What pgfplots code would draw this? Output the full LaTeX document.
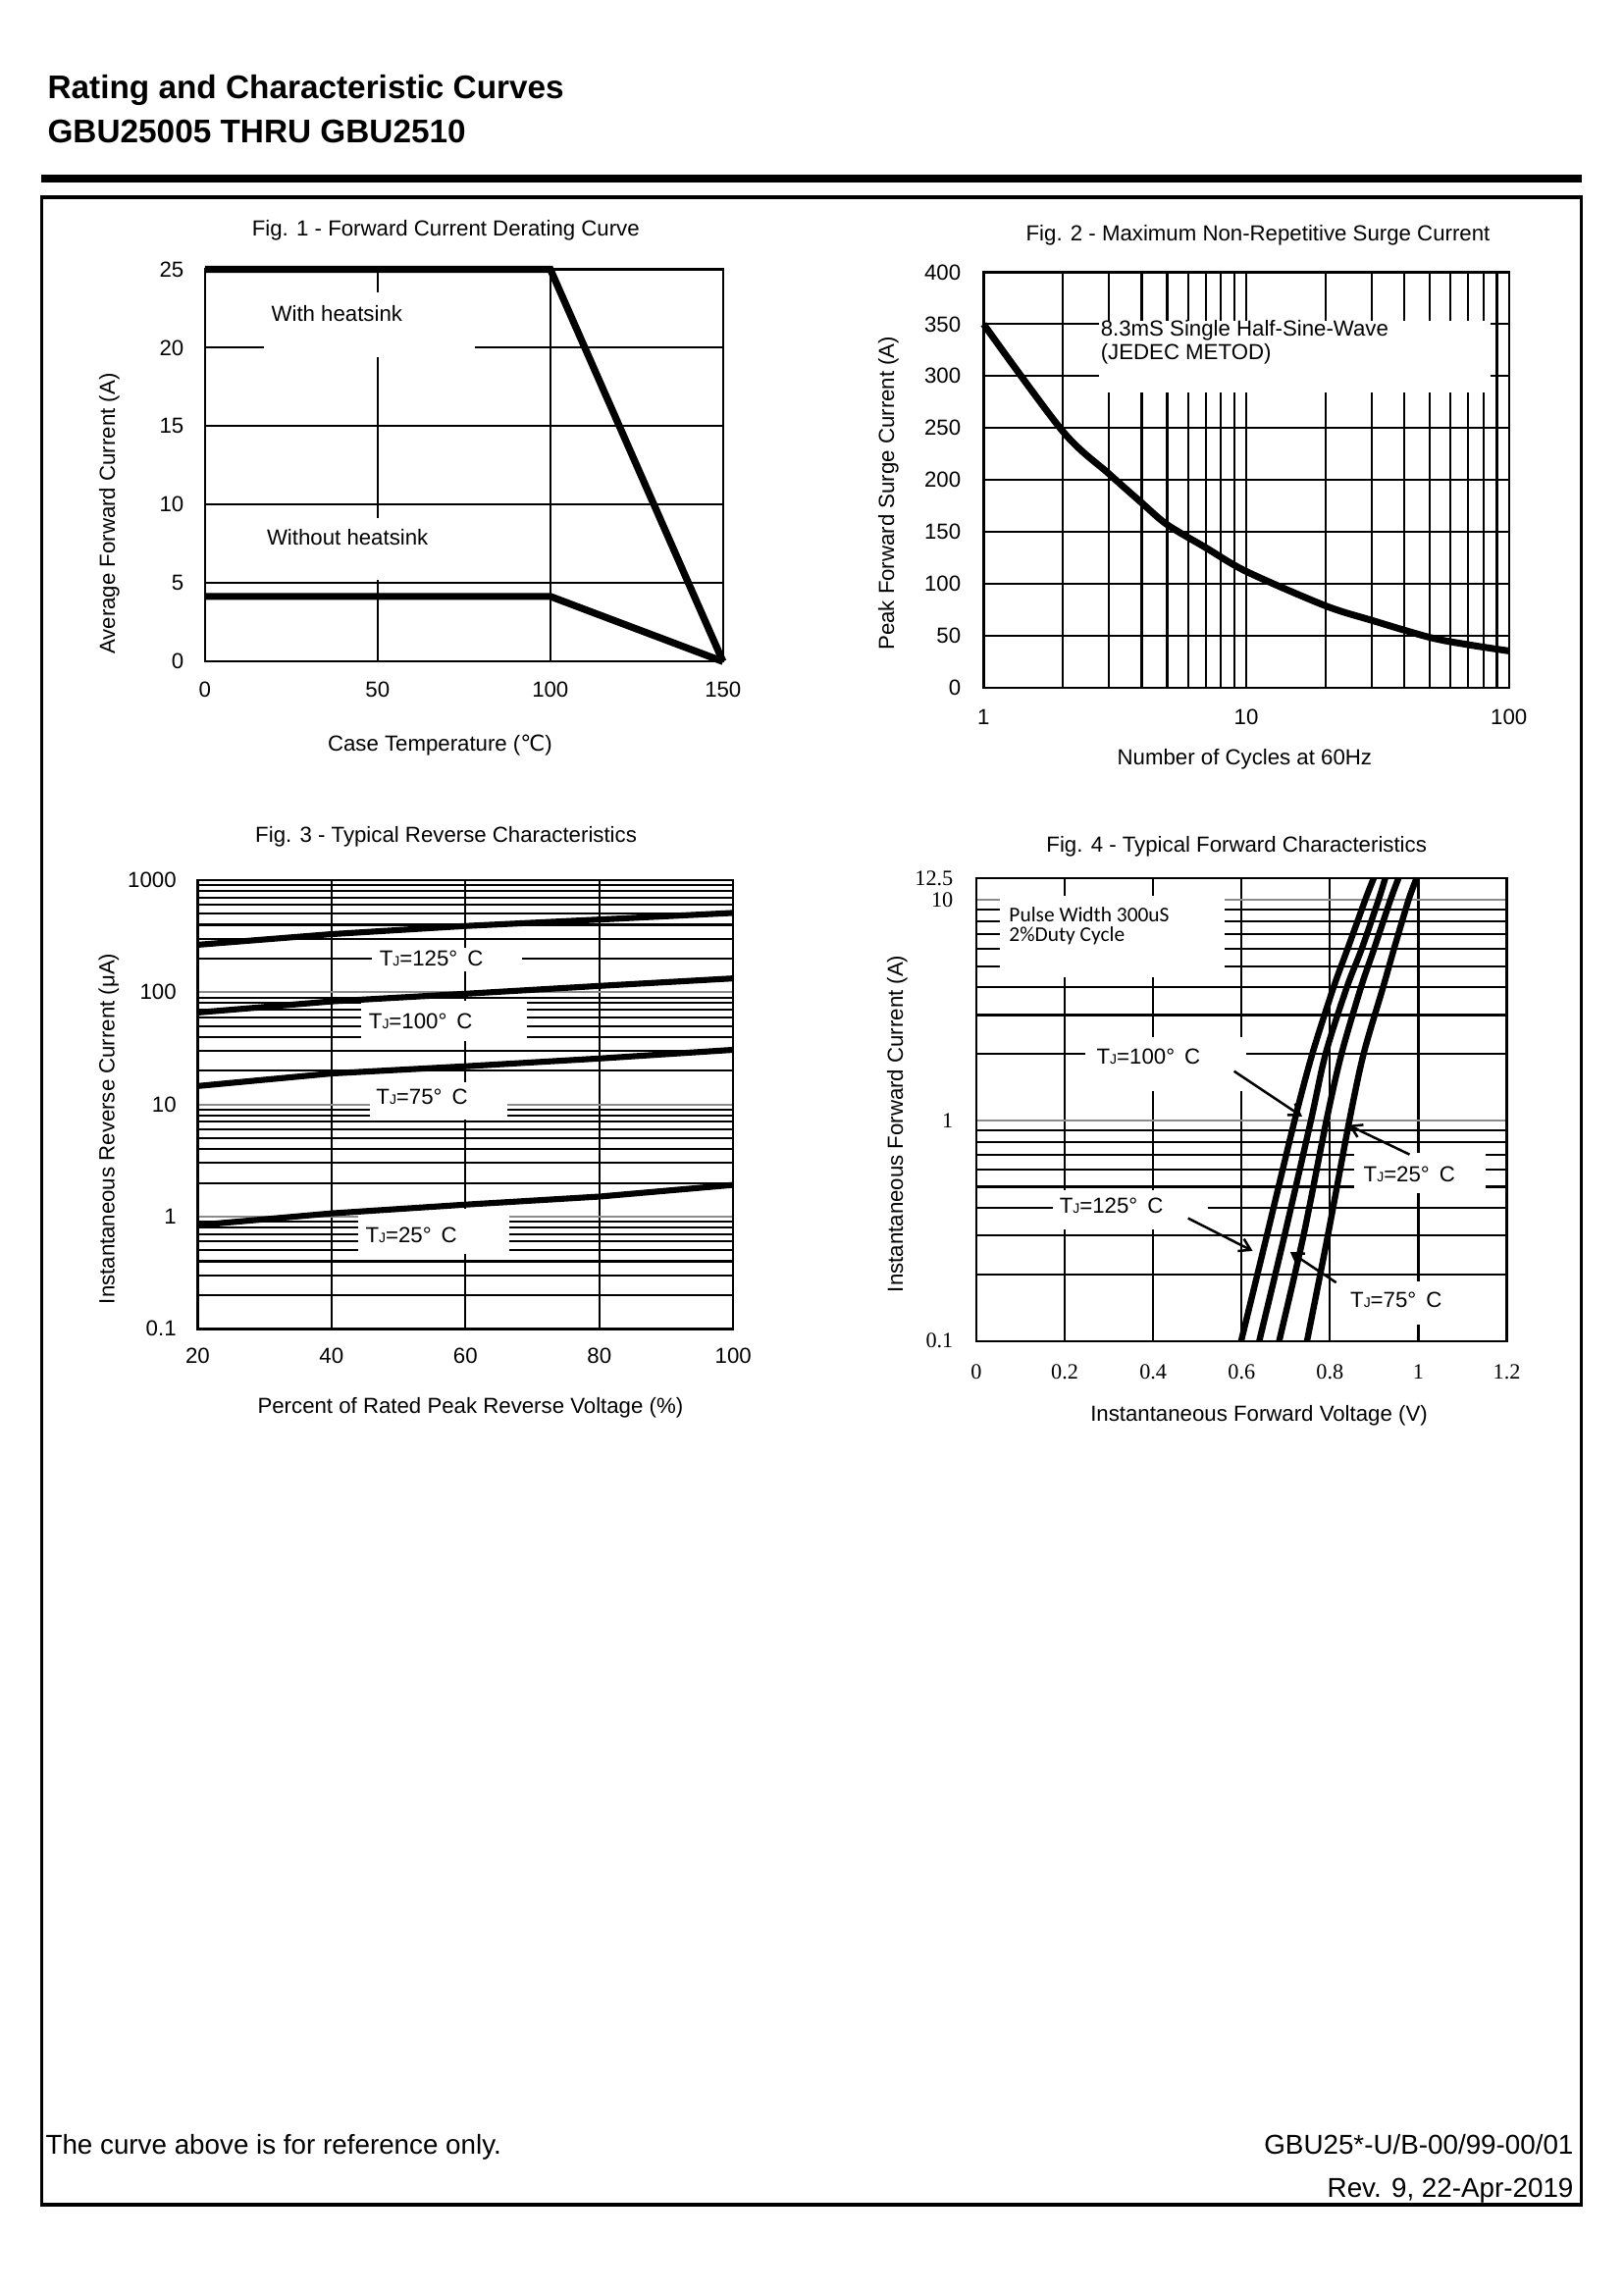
\documentclass[border=0pt]{standalone}
\usepackage{fontspec}
\setmainfont{Liberation Sans}
\newfontfamily\serifnum{Liberation Serif}
\newfontfamily\calib{Carlito}
\newfontfamily\dejavu{DejaVu Sans}
\usepackage{pgfplots}
\pgfplotsset{compat=1.18}
\usetikzlibrary{arrows.meta}

\newcommand\eight{\fontsize{8}{9.6}\selectfont}
\newcommand\tj[1]{T{\fontsize{5}{5}\selectfont J}=#1°\hspace{0.45em}C}

\pgfplotsset{
  ds/.style={
    scale only axis, clip=false, anchor=south west,
    axis line style={line width=0.9pt},
    tick style={draw=none},
    major tick length=0pt, minor tick length=0pt,
    grid style={black, line width=0.75pt},
    ticklabel style={font=\eight},
    /pgf/number format/assume math mode=true,
  },
}
\tikzset{lbl/.style={font=\eight, inner sep=0pt}}

\begin{document}
\begin{tikzpicture}[x=0.359886pt, y=-0.359886pt]
\path[use as bounding box, fill=white] (0,0) rectangle (1654,2338);

% header
\node[anchor=base west, inner sep=0pt, font=\bfseries\fontsize{12}{14}\selectfont] at (48,101) {Rating and Characteristic Curves};
\node[anchor=base west, inner sep=0pt, font=\bfseries\fontsize{12}{14}\selectfont] at (48,146) {GBU25005 THRU GBU2510};
\draw[line width=3.1pt] (42,182) -- (1612,182);
\draw[line width=1.1pt] (42.5,201) rectangle (1611.5,2247);

% ---------- Fig. 1
\begin{axis}[ds, at={(75.14pt,-242.64pt)}, width=190.02pt, height=143.88pt,
  xmin=0, xmax=150, ymin=0, ymax=25,
  xtick={0,50,100,150}, ytick={0,5,10,15,20,25}, grid=major,
  xticklabel style={yshift=-4pt}, yticklabel style={xshift=-4.2pt}]
\fill[white] (axis cs:17.2,19.4) rectangle (axis cs:78.1,23.5);
\fill[white] (axis cs:17.2,5.21) rectangle (axis cs:78.1,9.14);
\addplot[black, line width=2.6pt] coordinates {(0,25)(100,25)(150,0)};
\addplot[black, line width=2.6pt] coordinates {(0,4.15)(100,4.15)(150,0)};
\node[lbl, anchor=west] at (axis cs:19.1,22.2) {With heatsink};
\node[lbl, anchor=west] at (axis cs:17.8,7.94) {Without heatsink};
\end{axis}
\node[lbl, anchor=base] at (454.3,240.3) {Fig. 1 - Forward Current Derating Curve};
\node[lbl, anchor=base] at (448.4,765) {Case Temperature ({\dejavu ℃})};
\node[lbl, anchor=base, rotate=90] at (117,523.6) {Average Forward Current (A)};

% ---------- Fig. 2
\begin{axis}[ds, at={(360.72pt,-252.28pt)}, width=192.68pt, height=152.45pt,
  xmode=log, xmin=1, xmax=100, ymin=0, ymax=400,
  xtick={1,10,100}, xticklabels={1,10,100},
  minor xtick={2,3,4,5,6,7,8,9,20,30,40,50,60,70,80,90},
  ytick={0,50,100,150,200,250,300,350,400}, grid=both,
  xticklabel style={yshift=-4.5pt}, yticklabel style={xshift=-4.8pt}]
\fill[white] (axis cs:2.76,284.6) rectangle (axis cs:85.2,353);
\addplot[black, line width=2.5pt, smooth] coordinates {
  (1,350)(2,247)(3,206)(4,178)(5,157)(7,135)(10,112)
  (20,79)(30,65)(50,48.5)(70,41.5)(100,35.5)};
\node[lbl, anchor=west] at (axis cs:2.78,344) {8.3mS Single Half-Sine-Wave};
\node[lbl, anchor=west] at (axis cs:2.78,321) {(JEDEC METOD)};
\end{axis}
\node[lbl, anchor=base] at (1282,246) {Fig. 2 - Maximum Non-Repetitive Surge Current};
\node[lbl, anchor=base] at (1268.4,779.3) {Number of Cycles at 60Hz};
\node[lbl, anchor=base, rotate=90] at (911,502.8) {Peak Forward Surge Current (A)};

% ---------- Fig. 3
\begin{axis}[ds, at={(72.48pt,-487.39pt)}, width=196.43pt, height=164.58pt,
  ymode=log, xmin=20, xmax=100, ymin=0.1, ymax=1000,
  xtick={20,40,60,80,100}, minor xtick={40,60,80},
  ytick={0.1,1,10,100,1000}, yticklabels={0.1,1,10,100,1000},
  minor ytick={0.2,0.3,0.4,0.5,0.6,0.7,0.8,0.9,2,3,4,5,6,7,8,9,
    20,30,40,50,60,70,80,90,200,300,400,500,600,700,800,900},
  xmajorgrids=false, xminorgrids=true, ymajorgrids=true, yminorgrids=true,
  major grid style={black!45, line width=0.75pt},
  xticklabel style={yshift=-3.5pt}, yticklabel style={xshift=-4.3pt}]
\fill[white] (axis cs:46.0,153) rectangle (axis cs:68.5,248);
\fill[white] (axis cs:44.4,37) rectangle (axis cs:69.2,84);
\fill[white] (axis cs:45.8,7.33) rectangle (axis cs:66.2,15.8);
\fill[white] (axis cs:44.0,0.466) rectangle (axis cs:66.6,1.18);
\addplot[black, line width=2.2pt] coordinates {(20,265)(40,330)(60,390)(80,445)(100,510)};
\addplot[black, line width=2.2pt] coordinates {(20,66)(40,83)(60,97)(80,114)(100,133)};
\addplot[black, line width=2.2pt] coordinates {(20,14.6)(40,18.9)(60,21.9)(80,25.7)(100,30.7)};
\addplot[black, line width=2.2pt] coordinates {(20,0.84)(40,1.07)(60,1.28)(80,1.51)(100,1.92)};
\node[lbl, anchor=west] at (axis cs:47.1,200) {\tj{125}};
\node[lbl, anchor=west] at (axis cs:45.5,55.5) {\tj{100}};
\node[lbl, anchor=west] at (axis cs:46.6,11.6) {\tj{75}};
\node[lbl, anchor=west] at (axis cs:45.0,0.683) {\tj{25}};
\end{axis}
\node[lbl, anchor=base] at (454.6,858.9) {Fig. 3 - Typical Reverse Characteristics};
\node[lbl, anchor=base] at (479.4,1440.7) {Percent of Rated Peak Reverse Voltage (\%)};
\node[lbl, anchor=base, rotate=90] at (116.5,1150.4) {Instantaneous Reverse Current (μA)};

% ---------- Fig. 4
\begin{axis}[ds, at={(358.09pt,-491.86pt)}, width=194.52pt, height=169.76pt,
  ymode=log, xmin=0, xmax=1.2, ymin=0.1, ymax=12.5,
  xtick={0,0.2,0.4,0.6,0.8,1,1.2}, xticklabels={0,0.2,0.4,0.6,0.8,1,1.2},
  minor xtick={0.2,0.4,0.6,0.8,1},
  ytick={0.1,1,10,12.5}, yticklabels={0.1,1,10,12.5},
  minor ytick={0.2,0.3,0.4,0.5,0.6,0.7,0.8,0.9,2,3,4,5,6,7,8,9},
  xmajorgrids=false, xminorgrids=true, ymajorgrids=true, yminorgrids=true,
  major grid style={black!45, line width=0.75pt},
  ticklabel style={font=\serifnum\fontsize{8}{9.6}\selectfont},
  xticklabel style={yshift=-5pt}, yticklabel style={xshift=-5pt}]
\fill[white] (axis cs:0.0535,4.43) rectangle (axis cs:0.561,10.4);
\fill[white] (axis cs:0.2465,1.36) rectangle (axis cs:0.611,2.39);
\fill[white] (axis cs:0.855,0.47) rectangle (axis cs:1.152,0.71);
\fill[white] (axis cs:0.172,0.319) rectangle (axis cs:0.524,0.481);
\fill[white] (axis cs:0.82,0.119) rectangle (axis cs:1.15,0.187);
\addplot[black, line width=2.3pt, smooth] coordinates {(0.599,0.1)(0.657,0.3)(0.720,1)(0.760,2)(0.808,4)(0.840,6)(0.880,10)(0.899,12.5)};
\addplot[black, line width=2.3pt, smooth] coordinates {(0.640,0.1)(0.697,0.3)(0.757,1)(0.790,2)(0.838,4)(0.872,6)(0.910,10)(0.925,12.5)};
\addplot[black, line width=2.3pt, smooth] coordinates {(0.685,0.1)(0.740,0.3)(0.792,1)(0.826,2)(0.870,4)(0.900,6)(0.937,10)(0.955,12.5)};
\addplot[black, line width=2.3pt, smooth] coordinates {(0.748,0.1)(0.795,0.3)(0.844,1)(0.876,2)(0.920,4)(0.945,6)(0.978,10)(0.996,12.5)};
\node[anchor=west, inner sep=0pt, font=\calib\fontsize{7.7}{9}\selectfont] at (axis cs:0.073,8.55) {Pulse Width 300uS};
\node[anchor=west, inner sep=0pt, font=\calib\fontsize{7.7}{9}\selectfont] at (axis cs:0.073,6.82) {2\%Duty Cycle};
\node[lbl, anchor=west] at (axis cs:0.271,1.95) {\tj{100}};
\node[lbl, anchor=west] at (axis cs:0.875,0.572) {\tj{25}};
\node[lbl, anchor=west] at (axis cs:0.187,0.412) {\tj{125}};
\node[lbl, anchor=west] at (axis cs:0.845,0.153) {\tj{75}};
\draw[line width=0.9pt, -{Straight Barb[length=4pt,width=5pt]}] (axis cs:0.583,1.67) -- (axis cs:0.737,1.04);
\draw[line width=0.9pt, -{Straight Barb[length=4pt,width=5pt]}] (axis cs:0.98,0.70) -- (axis cs:0.842,0.95);
\draw[line width=0.9pt, -{Straight Barb[length=4pt,width=5pt]}] (axis cs:0.479,0.36) -- (axis cs:0.625,0.256);
\draw[line width=0.9pt, -{Straight Barb[length=4pt,width=5pt]}] (axis cs:0.814,0.184) -- (axis cs:0.710,0.253);
\end{axis}
\node[lbl, anchor=base] at (1260.2,868.9) {Fig. 4 - Typical Forward Characteristics};
\node[lbl, anchor=base] at (1283,1448.7) {Instantaneous Forward Voltage (V)};
\node[lbl, anchor=base, rotate=90] at (920,1145.3) {Instantaneous Forward Current (A)};

% footer
\node[anchor=base west, inner sep=0pt, font=\fontsize{10}{12}\selectfont] at (46,2195) {The curve above is for reference only.};
\node[anchor=base east, inner sep=0pt, font=\fontsize{10}{12}\selectfont] at (1604,2195) {GBU25*-U/B-00/99-00/01};
\node[anchor=base east, inner sep=0pt, font=\fontsize{10}{12}\selectfont] at (1604,2239) {Rev. 9, 22-Apr-2019};
\end{tikzpicture}
\end{document}
